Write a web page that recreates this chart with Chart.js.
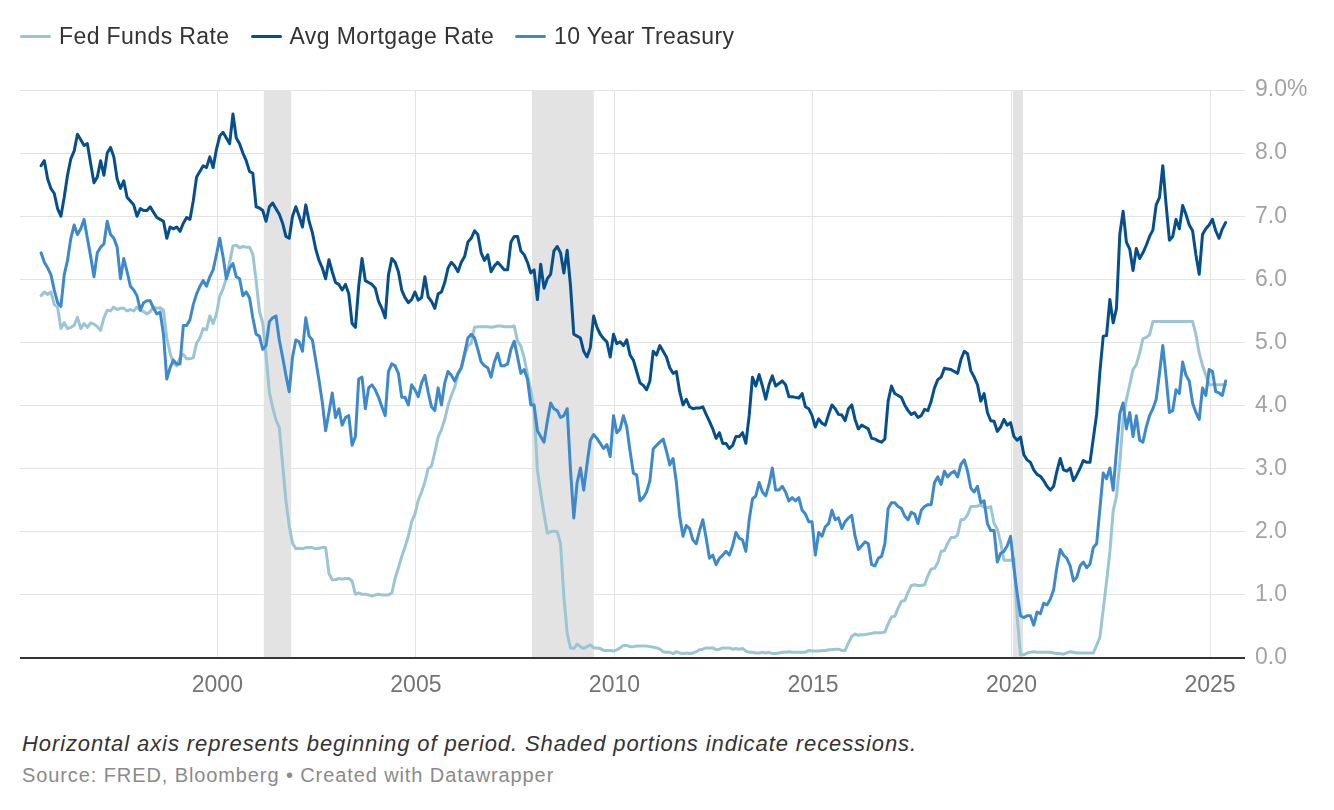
<!DOCTYPE html>
<html>
<head>
<meta charset="utf-8">
<script src="https://cdn.jsdelivr.net/npm/chart.js@4.4.1/dist/chart.umd.min.js"></script>
<style>
  body { margin: 0; background: #fff; font-family: "Liberation Sans", Arial, Helvetica, sans-serif; }
  #wrap { position: relative; width: 1334px; height: 810px; overflow: hidden; }
  #chartBox { position: absolute; left: 0; top: 0; width: 1334px; height: 710px; }
  #legend { position: absolute; left: 20px; top: 23px; display: flex; font-size: 23px; letter-spacing: 0.4px; color: #333; }
  #legend .item { display: flex; align-items: center; margin-right: 21px; }
  #legend .swatch { width: 31px; height: 3.5px; border-radius: 2px; margin-right: 8px; }
  #note { position: absolute; left: 22px; top: 731px; font-style: italic; font-size: 22px; letter-spacing: 0.9px; color: #333; }
  #source { position: absolute; left: 22px; top: 764px; font-size: 20px; letter-spacing: 0.9px; color: #8a8a8a; }
</style>
</head>
<body>
<div id="wrap">
  <div id="chartBox"><canvas id="rates"></canvas></div>
  <div id="legend"></div>
  <div id="note">Horizontal axis represents beginning of period. Shaded portions indicate recessions.</div>
  <div id="source">Source: FRED, Bloomberg • Created with Datawrapper</div>
</div>
<script>
// monthly values, first point = Jul 1995
const fedFunds = [
  5.74, 5.80, 5.76, 5.80, 5.60,
  5.56, 5.22, 5.31, 5.22, 5.24, 5.27, 5.40, 5.22, 5.30, 5.24, 5.31, 5.29,
  5.25, 5.19, 5.39, 5.51, 5.50, 5.56, 5.52, 5.54, 5.54, 5.50, 5.52, 5.50,
  5.56, 5.51, 5.49, 5.45, 5.49, 5.56, 5.54, 5.55, 5.51, 5.07, 4.83, 4.68,
  4.63, 4.76, 4.81, 4.74, 4.74, 4.76, 4.99, 5.07, 5.22, 5.20, 5.42, 5.30,
  5.45, 5.73, 5.85, 6.02, 6.27, 6.53, 6.54, 6.50, 6.52, 6.51, 6.51, 6.40,
  5.98, 5.49, 5.31, 4.80, 4.21, 3.97, 3.77, 3.65, 3.07, 2.49, 2.09, 1.82,
  1.73, 1.74, 1.73, 1.75, 1.75, 1.75, 1.73, 1.74, 1.75, 1.75, 1.34, 1.24,
  1.24, 1.26, 1.25, 1.26, 1.26, 1.22, 1.01, 1.03, 1.01, 1.01, 1.00, 0.98,
  1.00, 1.01, 1.00, 1.00, 1.00, 1.03, 1.26, 1.43, 1.61, 1.76, 1.93, 2.16,
  2.28, 2.50, 2.63, 2.79, 3.00, 3.04, 3.26, 3.50, 3.62, 3.78, 4.00, 4.16,
  4.29, 4.49, 4.59, 4.79, 4.94, 4.99, 5.24, 5.25, 5.25, 5.25, 5.25, 5.24,
  5.25, 5.26, 5.26, 5.25, 5.25, 5.25, 5.26, 5.02, 4.94, 4.76, 4.49, 4.24,
  3.94, 2.98, 2.61, 2.28, 1.98, 2.00, 2.01, 2.00, 1.81, 0.97, 0.39, 0.16,
  0.15, 0.22, 0.18, 0.15, 0.18, 0.21, 0.16, 0.16, 0.15, 0.12, 0.12, 0.12,
  0.11, 0.13, 0.16, 0.20, 0.20, 0.18, 0.18, 0.19, 0.19, 0.19, 0.19, 0.18,
  0.17, 0.16, 0.14, 0.10, 0.09, 0.09, 0.07, 0.10, 0.08, 0.07, 0.08, 0.07,
  0.08, 0.10, 0.13, 0.14, 0.16, 0.16, 0.16, 0.13, 0.14, 0.16, 0.16, 0.16,
  0.14, 0.15, 0.14, 0.15, 0.11, 0.09, 0.09, 0.08, 0.08, 0.09, 0.08, 0.09,
  0.07, 0.07, 0.08, 0.09, 0.09, 0.10, 0.09, 0.09, 0.09, 0.09, 0.09, 0.12,
  0.11, 0.11, 0.11, 0.12, 0.12, 0.13, 0.13, 0.14, 0.14, 0.12, 0.12, 0.24,
  0.34, 0.38, 0.36, 0.37, 0.37, 0.38, 0.39, 0.40, 0.40, 0.40, 0.41, 0.54,
  0.65, 0.66, 0.79, 0.90, 0.91, 1.04, 1.15, 1.16, 1.15, 1.15, 1.16, 1.30,
  1.41, 1.42, 1.51, 1.69, 1.70, 1.82, 1.91, 1.91, 1.95, 2.19, 2.20, 2.27,
  2.40, 2.40, 2.41, 2.42, 2.39, 2.38, 2.40, 2.13, 2.04, 1.83, 1.55, 1.55,
  1.55, 1.58, 0.65, 0.05, 0.05, 0.08, 0.09, 0.10, 0.09, 0.09, 0.09, 0.09,
  0.09, 0.08, 0.07, 0.07, 0.06, 0.08, 0.10, 0.09, 0.08, 0.08, 0.08, 0.08,
  0.08, 0.08, 0.20, 0.33, 0.77, 1.21, 1.68, 2.33, 2.56, 3.08, 3.78, 4.10,
  4.33, 4.57, 4.65, 4.83, 5.06, 5.08, 5.12, 5.33, 5.33, 5.33, 5.33, 5.33,
  5.33, 5.33, 5.33, 5.33, 5.33, 5.33, 5.33, 5.33, 5.13, 4.83, 4.64, 4.48,
  4.33, 4.33, 4.33, 4.33, 4.33, 4.33
];

const mortgage = [
  7.80, 7.88, 7.59, 7.44, 7.36, 7.12,
  7.00, 7.30, 7.65, 7.91, 8.03, 8.30, 8.21, 8.12, 8.15, 7.83, 7.53, 7.62,
  7.88, 7.65, 8.00, 8.09, 7.94, 7.59, 7.44, 7.56, 7.30, 7.24, 7.18, 7.00,
  7.12, 7.09, 7.09, 7.15, 7.06, 6.98, 6.95, 6.92, 6.65, 6.83, 6.80, 6.83,
  6.76, 6.89, 6.98, 6.95, 7.24, 7.62, 7.71, 7.80, 7.77, 7.94, 7.77, 8.06,
  8.27, 8.33, 8.24, 8.15, 8.62, 8.24, 8.15, 8.00, 7.88, 7.71, 7.68, 7.15,
  7.13, 7.09, 6.92, 7.15, 7.21, 7.12, 7.03, 6.89, 6.68, 6.65, 7.00, 7.15,
  7.00, 6.83, 7.18, 6.92, 6.74, 6.48, 6.30, 6.18, 6.01, 6.31, 6.12, 5.95,
  5.92, 5.83, 5.92, 5.77, 5.30, 5.24, 5.89, 6.33, 5.98, 5.95, 5.92, 5.86,
  5.65, 5.54, 5.39, 6.07, 6.33, 6.27, 6.12, 5.83, 5.71, 5.63, 5.68, 5.80,
  5.67, 5.71, 6.04, 5.72, 5.65, 5.54, 5.77, 5.80, 5.95, 6.18, 6.27, 6.21,
  6.12, 6.27, 6.36, 6.59, 6.65, 6.77, 6.71, 6.42, 6.30, 6.39, 6.12, 6.21,
  6.27, 6.21, 6.15, 6.15, 6.59, 6.68, 6.68, 6.45, 6.39, 6.27, 6.10, 6.15,
  5.68, 6.24, 5.86, 6.01, 6.08, 6.45, 6.52, 6.42, 6.10, 6.46, 5.90, 5.13,
  5.10, 5.07, 4.86, 4.77, 4.92, 5.42, 5.24, 5.13, 5.06, 5.01, 4.77, 5.13,
  4.98, 5.01, 4.95, 5.04, 4.80, 4.72, 4.54, 4.36, 4.32, 4.25, 4.39, 4.86,
  4.80, 4.95, 4.86, 4.77, 4.60, 4.51, 4.54, 4.22, 4.01, 4.10, 3.98, 3.95,
  3.96, 3.96, 3.98, 3.86, 3.75, 3.63, 3.48, 3.57, 3.40, 3.40, 3.32, 3.37,
  3.51, 3.51, 3.57, 3.40, 3.84, 4.45, 4.31, 4.49, 4.31, 4.10, 4.33, 4.47,
  4.31, 4.35, 4.39, 4.33, 4.14, 4.14, 4.13, 4.12, 4.19, 3.98, 3.95, 3.84,
  3.66, 3.79, 3.72, 3.69, 3.86, 4.01, 3.95, 3.86, 3.85, 3.76, 3.95, 4.01,
  3.78, 3.63, 3.69, 3.66, 3.63, 3.48, 3.47, 3.44, 3.42, 3.47, 4.07, 4.31,
  4.19, 4.16, 4.13, 4.01, 3.92, 3.86, 3.89, 3.81, 3.84, 3.94, 3.92, 4.07,
  4.28, 4.41, 4.45, 4.59, 4.58, 4.57, 4.54, 4.51, 4.73, 4.86, 4.82, 4.55,
  4.45, 4.33, 4.07, 4.19, 3.89, 3.76, 3.75, 3.59, 3.66, 3.78, 3.69, 3.73,
  3.51, 3.45, 3.50, 3.22, 3.14, 3.10, 2.98, 2.91, 2.88, 2.81, 2.72, 2.66,
  2.72, 2.96, 3.16, 2.98, 2.96, 3.01, 2.81, 2.90, 3.01, 3.13, 3.10, 3.10,
  3.48, 3.86, 4.54, 5.10, 5.11, 5.68, 5.31, 5.54, 6.71, 7.08, 6.59, 6.48,
  6.14, 6.49, 6.33, 6.42, 6.54, 6.68, 6.78, 7.18, 7.30, 7.80, 7.18, 6.62,
  6.68, 6.95, 6.80, 7.17, 7.03, 6.86, 6.77, 6.39, 6.08, 6.71, 6.80, 6.86,
  6.95, 6.77, 6.65, 6.80, 6.90
];

const treasury10y = [
  6.42, 6.27, 6.18, 6.07, 5.83, 5.63,
  5.57, 6.07, 6.30, 6.65, 6.86, 6.71, 6.80, 6.95, 6.65, 6.36, 6.04, 6.42,
  6.51, 6.56, 6.92, 6.71, 6.65, 6.51, 6.01, 6.33, 6.12, 5.89, 5.83, 5.74,
  5.51, 5.63, 5.66, 5.66, 5.54, 5.45, 5.48, 5.13, 4.42, 4.60, 4.72, 4.66,
  4.66, 5.27, 5.27, 5.36, 5.60, 5.77, 5.89, 5.98, 5.89, 6.04, 6.15, 6.39,
  6.65, 6.36, 6.01, 6.18, 6.25, 6.04, 6.01, 5.74, 5.80, 5.71, 5.39, 5.13,
  5.10, 4.89, 4.95, 5.33, 5.39, 5.42, 5.04, 4.77, 4.48, 4.22, 4.77, 5.04,
  5.01, 4.86, 5.39, 5.10, 5.04, 4.72, 4.40, 4.05, 3.60, 3.89, 4.20, 3.81,
  3.95, 3.69, 3.81, 3.84, 3.37, 3.51, 4.42, 4.45, 3.95, 4.28, 4.33, 4.25,
  4.13, 3.98, 3.84, 4.54, 4.66, 4.63, 4.51, 4.13, 4.13, 4.01, 4.33, 4.25,
  4.14, 4.36, 4.48, 4.21, 3.98, 3.92, 4.28, 4.01, 4.36, 4.54, 4.48, 4.39,
  4.51, 4.60, 4.83, 5.07, 5.13, 5.07, 4.89, 4.69, 4.63, 4.60, 4.45, 4.69,
  4.83, 4.63, 4.63, 4.66, 4.89, 5.02, 4.77, 4.51, 4.57, 4.42, 4.01, 4.01,
  3.60, 3.51, 3.42, 3.75, 4.04, 3.95, 3.92, 3.81, 3.84, 3.95, 2.98, 2.22,
  2.78, 3.01, 2.66, 3.07, 3.45, 3.54, 3.48, 3.40, 3.32, 3.38, 3.19, 3.84,
  3.57, 3.63, 3.84, 3.66, 3.28, 2.93, 2.90, 2.49, 2.54, 2.63, 2.81, 3.31,
  3.37, 3.42, 3.47, 3.28, 3.06, 3.16, 2.78, 2.25, 1.93, 2.10, 2.05, 1.87,
  1.81, 2.02, 2.19, 1.90, 1.58, 1.63, 1.48, 1.58, 1.63, 1.69, 1.63, 1.78,
  1.99, 1.90, 1.87, 1.69, 2.19, 2.52, 2.57, 2.78, 2.63, 2.57, 2.75, 3.01,
  2.66, 2.66, 2.72, 2.63, 2.49, 2.54, 2.49, 2.54, 2.34, 2.28, 2.16, 2.16,
  1.63, 1.99, 1.93, 2.08, 2.13, 2.34, 2.19, 2.22, 2.05, 2.16, 2.22, 2.26,
  1.93, 1.72, 1.78, 1.84, 1.81, 1.48, 1.46, 1.58, 1.61, 1.81, 2.37, 2.46,
  2.46, 2.40, 2.37, 2.25, 2.19, 2.31, 2.28, 2.13, 2.34, 2.40, 2.43, 2.43,
  2.78, 2.87, 2.75, 2.96, 2.87, 2.93, 2.96, 2.87, 3.07, 3.14, 2.96, 2.69,
  2.63, 2.72, 2.46, 2.49, 2.13, 2.02, 2.02, 1.52, 1.66, 1.69, 1.78, 1.93,
  1.43, 1.02, 0.67, 0.64, 0.67, 0.67, 0.52, 0.73, 0.70, 0.87, 0.84, 0.93,
  1.08, 1.44, 1.72, 1.63, 1.58, 1.46, 1.22, 1.28, 1.46, 1.52, 1.43, 1.49,
  1.75, 1.81, 2.37, 2.93, 2.84, 3.01, 2.66, 3.28, 3.87, 4.04, 3.63, 3.89,
  3.51, 3.84, 3.45, 3.42, 3.66, 3.84, 3.95, 4.10, 4.51, 4.95, 4.45, 3.89,
  3.92, 4.25, 4.19, 4.69, 4.48, 4.39, 4.04, 3.89, 3.78, 4.28, 4.16, 4.57,
  4.54, 4.22, 4.20, 4.16, 4.39
];

const seriesNames = ['Fed Funds Rate', 'Avg Mortgage Rate', '10 Year Treasury'];
const seriesColors = ['#9cc5d3', '#064f8b', '#3e89c9'];
const recessions = [[2001.17, 2001.86], [2007.92, 2009.48], [2020.04, 2020.29]];
const yearTicks = [2000, 2005, 2010, 2015, 2020, 2025];

// month i -> decimal year (points sit late in each month)
const toPoints = vals => vals.map((v, i) => ({ x: 1995.5 + i / 12 + 0.06, y: v }));

const legendEl = document.getElementById('legend');
seriesNames.forEach((name, i) => {
    const item = document.createElement('div');
    item.className = 'item';
    item.innerHTML = `<span class="swatch" style="background:${seriesColors[i]}"></span><span>${name}</span>`;
    legendEl.appendChild(item);
});

const recessionBands = {
    id: 'recessionBands',
    beforeDatasetsDraw(chart) {
        const { ctx, chartArea, scales: { x } } = chart;
        ctx.save();
        ctx.fillStyle = '#e3e3e3';
        recessions.forEach(([a, b]) => {
            const x0 = x.getPixelForValue(a);
            const x1 = x.getPixelForValue(b);
            ctx.fillRect(x0, chartArea.top, x1 - x0, chartArea.bottom - chartArea.top - 1);
        });
        ctx.restore();
    }
};

const allSeries = [fedFunds, mortgage, treasury10y];
const drawOrder = [2, 1, 0];
const tickFont = { size: 23, family: '"Liberation Sans", Arial, sans-serif' };

new Chart(document.getElementById('rates'), {
    type: 'line',
    data: {
        datasets: allSeries.map((vals, i) => ({
            label: seriesNames[i],
            data: toPoints(vals),
            borderColor: seriesColors[i],
            backgroundColor: seriesColors[i],
            borderWidth: 3,
            pointRadius: 0,
            tension: 0,
            borderJoinStyle: 'round',
            borderCapStyle: 'round',
            order: drawOrder[i]
        }))
    },
    options: {
        responsive: true,
        maintainAspectRatio: false,
        animation: false,
        layout: { padding: { left: 20, top: 90, right: 0, bottom: 0 } },
        plugins: {
            legend: { display: false },
            tooltip: { enabled: false }
        },
        scales: {
            x: {
                type: 'linear',
                min: 1995.03,
                max: 2025.88,
                afterBuildTicks: s => { s.ticks = yearTicks.map(v => ({ value: v })); },
                afterFit: s => { s.height = 52; },
                ticks: {
                    callback: v => String(v),
                    color: '#737373',
                    font: tickFont,
                    padding: 14,
                    maxRotation: 0
                },
                grid: { color: '#e3e3e3', lineWidth: 1, drawTicks: false },
                border: { display: false }
            },
            y: {
                position: 'right',
                min: 0,
                max: 9,
                afterFit: s => { s.width = 89; },
                ticks: {
                    stepSize: 1,
                    callback: v => v === 9 ? '9.0%' : v.toFixed(1),
                    color: '#a3a3a3',
                    font: tickFont,
                    padding: 10
                },
                grid: {
                    color: c => c.tick.value === 0 ? '#333333' : '#e3e3e3',
                    lineWidth: c => c.tick.value === 0 ? 2 : 1,
                    drawTicks: false
                },
                border: { display: false }
            }
        }
    },
    plugins: [recessionBands]
});
</script>
</body>
</html>
